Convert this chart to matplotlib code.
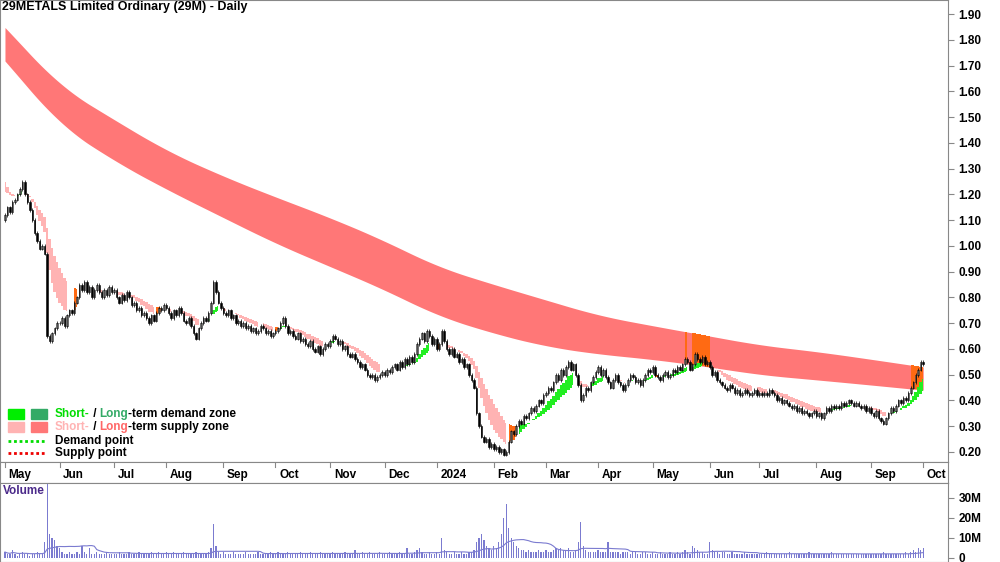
import matplotlib
matplotlib.use("Agg")
import matplotlib.pyplot as plt
from matplotlib.patches import Rectangle
from matplotlib.lines import Line2D
import numpy as np
import pandas as pd

plt.rcParams['font.family'] = ['Liberation Sans', 'DejaVu Sans']

title = "29METALS Limited Ordinary (29M) - Daily"
month_labels = ["May", "Jun", "Jul", "Aug", "Sep", "Oct", "Nov", "Dec", "2024", "Feb",
                "Mar", "Apr", "May", "Jun", "Jul", "Aug", "Sep", "Oct"]

# daily closes, one list per month
closes_by_month = [
    [1.12,1.15,1.13,1.17,1.18,1.20,1.22,1.25,1.20,1.17,1.14,1.10,1.05,1.02,0.99,1.00,0.97,0.65,0.63,0.66,0.68,0.70],
    [0.70,0.72,0.69,0.73,0.75,0.74,0.78,0.80,0.85,0.83,0.86,0.82,0.84,0.80,0.83,0.85,0.82,0.80,0.83,0.81,0.84,0.82],
    [0.83,0.80,0.78,0.81,0.79,0.82,0.80,0.77,0.78,0.75,0.76,0.73,0.74,0.72,0.70,0.73,0.71,0.74,0.76,0.75,0.77],
    [0.76,0.74,0.72,0.75,0.73,0.76,0.74,0.71,0.70,0.72,0.69,0.66,0.64,0.68,0.70,0.72,0.71,0.74,0.78,0.86,0.82,0.78,0.76],
    [0.74,0.73,0.75,0.72,0.73,0.70,0.71,0.69,0.70,0.68,0.69,0.67,0.68,0.66,0.67,0.69,0.68,0.66,0.67,0.65,0.66],
    [0.67,0.68,0.70,0.72,0.69,0.66,0.67,0.65,0.64,0.66,0.63,0.64,0.62,0.61,0.63,0.60,0.59,0.61,0.58,0.60,0.62,0.61],
    [0.63,0.65,0.64,0.62,0.63,0.60,0.61,0.58,0.57,0.58,0.56,0.55,0.53,0.54,0.52,0.50,0.49,0.50,0.48,0.49,0.50,0.51],
    [0.50,0.52,0.51,0.53,0.54,0.52,0.55,0.53,0.56,0.54,0.57,0.55,0.58,0.62,0.64,0.66,0.63,0.67,0.65,0.62,0.64],
    [0.60,0.62,0.67,0.63,0.60,0.58,0.60,0.57,0.58,0.55,0.56,0.53,0.54,0.50,0.48,0.45,0.35,0.30,0.26,0.24,0.25,0.22,0.23],
    [0.21,0.22,0.20,0.21,0.19,0.20,0.24,0.28,0.27,0.30,0.32,0.31,0.34,0.33,0.35,0.37,0.36,0.38,0.40,0.39,0.42],
    [0.43,0.45,0.44,0.47,0.50,0.48,0.52,0.50,0.53,0.55,0.52,0.54,0.50,0.46,0.40,0.42,0.45,0.44,0.47,0.49,0.51],
    [0.53,0.50,0.52,0.49,0.47,0.45,0.48,0.50,0.47,0.46,0.44,0.46,0.48,0.50,0.49,0.47,0.48,0.46,0.48,0.50,0.52,0.51],
    [0.53,0.50,0.49,0.48,0.50,0.51,0.49,0.50,0.52,0.51,0.53,0.52,0.54,0.56,0.55,0.52,0.54,0.58,0.56,0.55,0.57,0.54,0.55],
    [0.53,0.50,0.51,0.48,0.47,0.46,0.45,0.44,0.46,0.45,0.43,0.44,0.42,0.43,0.44,0.43,0.42,0.43,0.44,0.42],
    [0.43,0.42,0.43,0.42,0.44,0.43,0.42,0.40,0.41,0.39,0.40,0.39,0.38,0.37,0.38,0.36,0.37,0.35,0.36,0.35,0.34,0.35,0.36],
    [0.34,0.35,0.33,0.35,0.37,0.36,0.38,0.37,0.38,0.37,0.39,0.38,0.39,0.40,0.39,0.38,0.39,0.38,0.37,0.38,0.36,0.37],
    [0.35,0.34,0.36,0.33,0.32,0.31,0.33,0.35,0.37,0.36,0.38,0.40,0.39,0.41,0.40,0.43,0.45,0.47,0.50,0.52,0.55],
    [0.54],
]

# daily volume (millions), one list per month
volume_by_month = [
    [3,2,2,4,2,1,2,3,2,2,1,2,2,3,2,2,8,37,12,10,9,6],
    [5,3,2,2,3,2,2,3,2,6,3,2,5,2,2,3,2,2,2,3,2,2],
    [2,2,3,2,2,2,3,2,2,2,3,2,2,2,2,3,2,2,3,2,2],
    [3,2,2,3,2,2,2,3,2,2,2,2,3,2,2,2,2,3,5,17,6,3,2],
    [3,2,2,2,3,2,2,2,2,3,2,2,2,2,3,2,2,2,2,3,2],
    [2,3,2,2,2,3,2,2,2,2,3,2,2,2,3,2,2,2,3,2,2,2],
    [2,3,2,2,2,2,3,2,2,2,4,2,2,3,2,2,3,2,2,2,3,2],
    [2,2,3,2,2,2,3,2,2,5,2,2,3,4,5,3,2,2,3,2,2],
    [3,2,10,4,3,2,2,3,2,2,3,2,2,3,3,4,8,10,12,9,6,5,4],
    [6,5,8,12,20,27,15,10,8,6,5,4,4,3,4,3,3,3,4,3,3],
    [4,3,3,4,5,4,5,4,4,5,3,3,4,8,18,6,4,3,3,3,3],
    [4,3,3,3,8,3,3,3,3,2,3,3,3,2,3,3,2,2,3,3,2,2],
    [3,2,2,3,2,2,2,3,2,2,3,2,3,4,3,2,6,5,4,3,3,2,2],
    [8,4,3,3,2,3,3,2,2,3,2,2,2,2,3,2,2,2,2,2],
    [2,2,2,3,2,2,2,2,2,2,2,2,3,2,2,2,2,2,2,2,3,2,2],
    [2,2,2,2,2,2,3,2,2,2,2,2,2,2,2,2,2,2,2,2,2,2],
    [2,2,2,2,2,3,2,2,2,2,2,2,2,2,3,2,3,4,3,5,4],
    [5],
]

# long-term supply zone edges at each month start (price)
long_top = [1.85,1.62,1.49,1.37,1.27,1.19,1.11,1.02,0.92,0.85,0.79,0.73,0.69,0.65,0.615,0.59,0.56,0.53]
long_bot = [1.72,1.47,1.33,1.22,1.11,1.01,0.92,0.83,0.73,0.66,0.61,0.58,0.56,0.53,0.50,0.48,0.46,0.44]

close = np.array([c for m in closes_by_month for c in m])
volume = np.array([v for m in volume_by_month for v in m], dtype=float)
n = len(close)
x = np.arange(n)
month_start = np.cumsum([0] + [len(m) for m in closes_by_month[:-1]])
opens = np.r_[close[0] - 0.02, close[:-1]]
highs = np.maximum(opens, close) + 0.007
lows = np.minimum(opens, close) - 0.007

# short-term zone: two EMAs of closes
st_a = pd.Series(np.r_[1.28, close]).ewm(span=9, adjust=False).mean().values[1:]
st_b = pd.Series(np.r_[1.22, close]).ewm(span=20, adjust=False).mean().values[1:]
st_hi = np.maximum(st_a, st_b)
st_lo = np.minimum(st_a, st_b)

def smooth(v, w=25):
    p = np.r_[np.full(w, v[0] + (v[0] - v[w])), v, np.full(w, v[-1] + (v[-1] - v[-1 - w]))]
    p = np.r_[np.linspace(2 * v[0] - v[w], v[0], w, endpoint=False), v,
              np.linspace(v[-1], 2 * v[-1] - v[-1 - w], w + 1)[1:]]
    return np.convolve(p, np.ones(w) / w, mode='same')[w:-w]

lt_hi = smooth(np.interp(x, month_start, long_top))
lt_lo = smooth(np.interp(x, month_start, long_bot))

fig = plt.figure(figsize=(10, 5.62), dpi=100)
ax = fig.add_axes([0, 1 - 462 / 562, 0.948, 462 / 562])
axd = fig.add_axes([0, 1 - 483 / 562, 0.948, 21 / 562])
axv = fig.add_axes([0, 0, 0.948, 79 / 562])

pink, red, orange, lime = '#ffb3b3', '#ff7777', '#ff6a13', '#22ee22'

ax.fill_between(x, lt_lo, lt_hi, color=red, lw=0)
in_lt = close >= lt_lo
ax.fill_between(x, lt_lo, lt_hi, where=in_lt, color=orange, lw=0, step='mid')

below = close < st_lo
above = close > st_hi
mid = ~below & ~above
ax.fill_between(x, st_lo, st_hi, where=below, color=pink, lw=0, step='mid')
ax.fill_between(x, st_lo, st_hi, where=mid, color=orange, lw=0, step='mid')
ax.fill_between(x, st_lo, st_hi, where=above, color=lime, lw=0, step='mid')

# candles
ax.vlines(x, lows, highs, color='black', lw=0.5)
up = close >= opens
ax.bar(x[up], (close - opens)[up], bottom=opens[up], width=0.6, color='white', edgecolor='black', lw=0.4)
ax.bar(x[~up], (opens - close)[~up], bottom=close[~up], width=0.6, color='black', edgecolor='black', lw=0.4)

xl = (-2, n + 9)
for a in (ax, axd, axv):
    a.set_xlim(*xl)
    a.set_xticks([])
    a.yaxis.tick_right()
    for sp in a.spines.values():
        sp.set_color('#888888')
ax.set_ylim(0.161, 1.955)
yt = np.round(np.arange(0.2, 1.91, 0.1), 2)
ax.set_yticks(yt)
ax.set_yticklabels([f"{v:.2f}" for v in yt])
for a in (ax, axv):
    a.tick_params(axis='y', direction='out', length=4, colors='#888888', labelcolor='black', labelsize=8.5)
    for t in a.get_yticklabels():
        t.set_fontweight('bold')

ax.text(0.002, 0.997, title, transform=ax.transAxes, va='top', ha='left', fontsize=9, fontweight='bold')

# date strip
axd.set_ylim(0, 1)
axd.set_yticks([])
for i, lab in zip(month_start, month_labels):
    axd.plot([i, i], [0.75, 1], color='#888888', lw=0.8)
    axd.text(i + 1.5, 0.4, lab, va='center', ha='left', fontsize=8.5, fontweight='bold')

# volume
axv.bar(x, volume, width=0.5, color='#7b7bd0')
axv.plot(x, pd.Series(volume).rolling(20, min_periods=1).mean(), color='#7b7bd0', lw=0.8)
axv.set_ylim(-2, 37.5)
axv.set_yticks([0, 10, 20, 30])
axv.set_yticklabels(['0', '10M', '20M', '30M'])
for t in axv.get_yticklabels():
    t.set_fontweight('bold')
axv.text(0.003, 0.97, "Volume", transform=axv.transAxes, va='top', ha='left', fontsize=8.5,
         fontweight='bold', color='#4b2a8a')

# legend
def fy(py):
    return 1 - py / 562

for px, col in [(8, '#00ee00'), (31, '#33aa66')]:
    fig.patches.append(Rectangle((px / 1000, fy(419)), 16 / 1000, 10 / 562, color=col, transform=fig.transFigure))
for px, col in [(8, pink), (31, red)]:
    fig.patches.append(Rectangle((px / 1000, fy(432)), 16 / 1000, 10 / 562, color=col, transform=fig.transFigure))
fig.lines.append(Line2D([8 / 1000, 46 / 1000], [fy(441), fy(441)], color='#00dd00', lw=2, ls=(0, (1, 1)), transform=fig.transFigure))
fig.lines.append(Line2D([8 / 1000, 46 / 1000], [fy(453), fy(453)], color='#ee0000', lw=2, ls=(0, (1, 1)), transform=fig.transFigure))

lx, ly1, ly2 = 55 / 1000, fy(414), fy(427)
parts1 = [("Short-", '#00dd00'), (" / ", 'black'), ("Long", '#33aa66'), ("-term demand zone", 'black')]
parts2 = [("Short-", pink), (" / ", 'black'), ("Long", '#ff6666'), ("-term supply zone", 'black')]
fig.canvas.draw()
r = fig.canvas.get_renderer()
for parts, yy in [(parts1, ly1), (parts2, ly2)]:
    cx = lx
    for txt, col in parts:
        t = fig.text(cx, yy, txt.replace(" ", "\u00a0"), color=col, fontsize=8.5, fontweight='bold', va='center', ha='left')
        bb = t.get_window_extent(renderer=r)
        cx += bb.width / fig.bbox.width
fig.text(lx, fy(441), "Demand point", fontsize=8.5, fontweight='bold', va='center')
fig.text(lx, fy(453), "Supply point", fontsize=8.5, fontweight='bold', va='center')

fig.savefig("out.png", dpi=100)
